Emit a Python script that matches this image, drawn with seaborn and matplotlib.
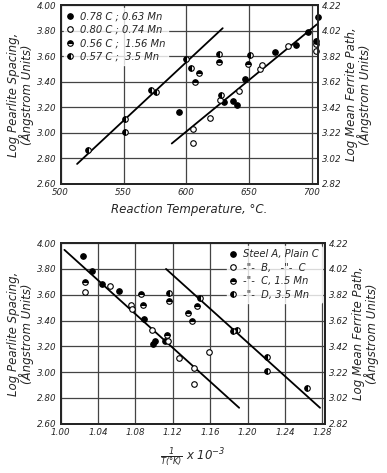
import matplotlib
matplotlib.use("Agg")
import matplotlib.pyplot as plt
from matplotlib.lines import Line2D
import numpy as np
import pandas as pd
import seaborn as sns

sns.set_style("white")
plt.rcParams['font.family'] = ['DejaVu Sans']
plt.rcParams['font.style'] = 'italic'
plt.rcParams['mathtext.default'] = 'it'

# ---- top chart: log spacing vs reaction temperature ----
top_a_x = [594, 630, 637, 640, 647, 671, 687, 697, 705]
top_a_y = [3.165, 3.24, 3.25, 3.22, 3.42, 3.63, 3.69, 3.79, 3.91]
top_b_x = [605, 605, 619, 627, 642, 659, 660, 681, 703.5, 703.5]
top_b_y = [2.92, 3.03, 3.12, 3.26, 3.33, 3.50, 3.53, 3.68, 3.64, 3.70]
top_c_x = [607, 610.5, 626.3, 649]
top_c_y = [3.40, 3.47, 3.555, 3.54]
top_d_x = [522, 551, 551, 572, 576, 600, 603.4, 626.3, 627.6, 651, 703.5]
top_d_y = [2.87, 3.11, 3.01, 3.335, 3.32, 3.575, 3.51, 3.62, 3.30, 3.61, 3.72]
top_fit1_x = [513, 629]
top_fit1_y = [2.757, 3.82]
top_fit2_x = [588.4, 704]
top_fit2_y = [2.917, 3.85]
top_labels = ["0.78 C ; 0.63 Mn", "0.80 C ; 0.74 Mn", "0.56 C ;  1.56 Mn", "0.57 C ;  3.5 Mn"]

# ---- bottom chart: log spacing vs 1/T ----
bot_a_x = [1.0242, 1.0332, 1.0445, 1.0624, 1.0895, 1.101, 1.099, 1.112]
bot_a_y = [3.904, 3.787, 3.68, 3.627, 3.41, 3.245, 3.22, 3.24]
bot_b_x = [1.026, 1.0528, 1.075, 1.0763, 1.098, 1.115, 1.127, 1.143, 1.143, 1.159]
bot_b_y = [3.62, 3.667, 3.52, 3.487, 3.33, 3.245, 3.107, 3.03, 2.912, 3.16]
bot_c_x = [1.026, 1.0857, 1.0878, 1.116, 1.114, 1.1366, 1.141, 1.1456]
bot_c_y = [3.695, 3.604, 3.52, 3.55, 3.29, 3.46, 3.40, 3.513]
bot_d_x = [1.116, 1.149, 1.184, 1.189, 1.221, 1.221, 1.264]
bot_d_y = [3.61, 3.576, 3.32, 3.33, 3.115, 3.01, 2.875]
bot_fit1_x = [1.0039, 1.191]
bot_fit1_y = [3.948, 2.724]
bot_fit2_x = [1.1127, 1.2776]
bot_fit2_y = [3.80, 2.724]
bot_labels = ["Steel A, Plain C", '-"-  B,   -"-  C', '-"-  C, 1.5 Mn', '-"-  D, 3.5 Mn']

left_ticks = [2.60, 2.80, 3.00, 3.20, 3.40, 3.60, 3.80, 4.00]
right_ticks = [2.82, 3.02, 3.22, 3.42, 3.62, 3.82, 4.02, 4.22]

ms = 4.0
mew = 0.8
styles = [
    dict(marker='o', color='black', mfc='black', fillstyle='full'),
    dict(marker='o', color='black', mfc='white', fillstyle='full'),
    dict(marker='o', color='black', mfc='black', mfcalt='white', fillstyle='top'),
    dict(marker='o', color='black', mfc='black', mfcalt='white', fillstyle='left'),
]


def draw(ax, series, fits, xlim, xticks, xticklabels, labels, legend_loc):
    for (x1, y1) in fits:
        df = pd.DataFrame({'x': x1, 'y': y1})
        sns.lineplot(data=df, x='x', y='y', ax=ax, color='black', lw=1.3,
                     zorder=3, legend=False)
    for (xs, ys), st in zip(series, styles):
        ax.plot(xs, ys, ls='none', ms=ms, mew=mew, zorder=4, clip_on=False, **st)
    ax.set_xlim(*xlim)
    ax.set_ylim(2.60, 4.00)
    ax.set_xticks(xticks)
    ax.set_xticklabels(xticklabels, fontsize=6.3)
    ax.set_yticks(left_ticks)
    ax.set_yticklabels(["%.2f" % v for v in left_ticks], fontsize=6.3)
    ax.grid(True, color='#444444', lw=0.9)
    ax.set_axisbelow(True)
    for s in ax.spines.values():
        s.set_linewidth(1.4)
        s.set_color('black')
    ax.tick_params(length=0, pad=3)
    ax.set_ylabel("Log Pearlite Spacing,\n(Ångstrom Units)", fontsize=8.5,
                  linespacing=0.95, labelpad=2)
    ax2 = ax.twinx()
    ax2.set_ylim(2.82, 4.22)
    ax2.set_yticks(right_ticks)
    ax2.set_yticklabels(["%.2f" % v for v in right_ticks], fontsize=6.3)
    ax2.tick_params(length=0, pad=3)
    ax2.set_ylabel("Log Mean Ferrite Path,\n(Ångstrom Units)", fontsize=8.5,
                   linespacing=0.95, rotation=90, labelpad=2)
    for s in ax2.spines.values():
        s.set_linewidth(1.4)
    handles = [Line2D([], [], ls='none', ms=ms, mew=mew, **st) for st in styles]
    leg = ax.legend(handles, labels, loc=legend_loc, fontsize=7.2, frameon=True,
                    handlelength=0.6, handletextpad=0.7, labelspacing=0.35,
                    borderpad=0.3, borderaxespad=0.3)
    leg.get_frame().set_facecolor('white')
    leg.get_frame().set_edgecolor('white')
    leg.set_zorder(2)
    return ax2


fig = plt.figure(figsize=(3.87, 4.73), dpi=100)
ax_top = fig.add_axes([0.157, 0.611, 0.665, 0.378])
ax_bot = fig.add_axes([0.157, 0.104, 0.683, 0.382])

draw(ax_top,
     [(top_a_x, top_a_y), (top_b_x, top_b_y), (top_c_x, top_c_y), (top_d_x, top_d_y)],
     [(top_fit1_x, top_fit1_y), (top_fit2_x, top_fit2_y)],
     (500, 705), [500, 550, 600, 650, 700], ["500", "550", "600", "650", "700"],
     top_labels, 'upper left')
ax_top.set_xlabel("Reaction Temperature, °C.", fontsize=8.5, labelpad=4)

bot_xt = [1.00, 1.04, 1.08, 1.12, 1.16, 1.20, 1.24, 1.28]
draw(ax_bot,
     [(bot_a_x, bot_a_y), (bot_b_x, bot_b_y), (bot_c_x, bot_c_y), (bot_d_x, bot_d_y)],
     [(bot_fit1_x, bot_fit1_y), (bot_fit2_x, bot_fit2_y)],
     (1.00, 1.283), bot_xt, ["%.2f" % v for v in bot_xt],
     bot_labels, 'upper right')
ax_bot.set_xlabel(r"$\frac{1}{T(°K)}$ x 10$^{-3}$", fontsize=8.5, labelpad=6)

fig.savefig("out.png", dpi=100)
